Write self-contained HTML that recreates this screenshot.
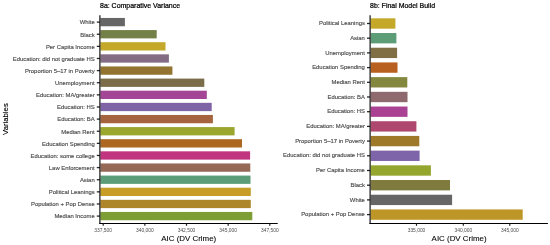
<!DOCTYPE html>
<html><head><meta charset="utf-8"><title>AIC charts</title>
<style>html,body{margin:0;padding:0;background:#fff}svg{display:block}text{font-family:"Liberation Sans",sans-serif}</style></head>
<body>
<svg width="550" height="245" viewBox="0 0 550 245">
<rect width="550" height="245" fill="#fff"/>
<text transform="rotate(0.02 100 8.3)" x="100" y="8.3" font-size="6.98" fill="#000" stroke="#000" stroke-width="0.22">8a: Comparative Variance</text>
<rect x="100.4" y="17.95" width="24.50" height="8.3" fill="#666666"/>
<line x1="96.80" x2="99.90" y1="22.10" y2="22.10" stroke="#262626" stroke-width="1.3"/>
<text transform="rotate(0.02 94.7 24.40)" x="94.7" y="24.40" font-size="5.9" fill="#4D4D4D" stroke="#4D4D4D" stroke-width="0.15" text-anchor="end">White</text>
<rect x="100.4" y="30.07" width="56.30" height="8.3" fill="#738149"/>
<line x1="96.80" x2="99.90" y1="34.23" y2="34.23" stroke="#262626" stroke-width="1.3"/>
<text transform="rotate(0.02 94.7 36.52)" x="94.7" y="36.52" font-size="5.9" fill="#4D4D4D" stroke="#4D4D4D" stroke-width="0.15" text-anchor="end">Black</text>
<rect x="100.4" y="42.20" width="65.10" height="8.3" fill="#C3A82A"/>
<line x1="96.80" x2="99.90" y1="46.35" y2="46.35" stroke="#262626" stroke-width="1.3"/>
<text transform="rotate(0.02 94.7 48.65)" x="94.7" y="48.65" font-size="5.9" fill="#4D4D4D" stroke="#4D4D4D" stroke-width="0.15" text-anchor="end">Per Capita Income</text>
<rect x="100.4" y="54.33" width="68.50" height="8.3" fill="#846C85"/>
<line x1="96.80" x2="99.90" y1="58.48" y2="58.48" stroke="#262626" stroke-width="1.3"/>
<text transform="rotate(0.02 94.7 60.77)" x="94.7" y="60.77" font-size="5.9" fill="#4D4D4D" stroke="#4D4D4D" stroke-width="0.15" text-anchor="end">Education: did not graduate HS</text>
<rect x="100.4" y="66.45" width="72.00" height="8.3" fill="#927330"/>
<line x1="96.80" x2="99.90" y1="70.60" y2="70.60" stroke="#262626" stroke-width="1.3"/>
<text transform="rotate(0.02 94.7 72.90)" x="94.7" y="72.90" font-size="5.9" fill="#4D4D4D" stroke="#4D4D4D" stroke-width="0.15" text-anchor="end">Proportion 5–17 in Poverty</text>
<rect x="100.4" y="78.58" width="103.90" height="8.3" fill="#7C6D4A"/>
<line x1="96.80" x2="99.90" y1="82.73" y2="82.73" stroke="#262626" stroke-width="1.3"/>
<text transform="rotate(0.02 94.7 85.03)" x="94.7" y="85.03" font-size="5.9" fill="#4D4D4D" stroke="#4D4D4D" stroke-width="0.15" text-anchor="end">Unemployment</text>
<rect x="100.4" y="90.70" width="106.40" height="8.3" fill="#A34695"/>
<line x1="96.80" x2="99.90" y1="94.85" y2="94.85" stroke="#262626" stroke-width="1.3"/>
<text transform="rotate(0.02 94.7 97.15)" x="94.7" y="97.15" font-size="5.9" fill="#4D4D4D" stroke="#4D4D4D" stroke-width="0.15" text-anchor="end">Education: MA/greater</text>
<rect x="100.4" y="102.83" width="111.30" height="8.3" fill="#7F63A7"/>
<line x1="96.80" x2="99.90" y1="106.98" y2="106.98" stroke="#262626" stroke-width="1.3"/>
<text transform="rotate(0.02 94.7 109.28)" x="94.7" y="109.28" font-size="5.9" fill="#4D4D4D" stroke="#4D4D4D" stroke-width="0.15" text-anchor="end">Education: HS</text>
<rect x="100.4" y="114.95" width="112.50" height="8.3" fill="#A6643E"/>
<line x1="96.80" x2="99.90" y1="119.10" y2="119.10" stroke="#262626" stroke-width="1.3"/>
<text transform="rotate(0.02 94.7 121.40)" x="94.7" y="121.40" font-size="5.9" fill="#4D4D4D" stroke="#4D4D4D" stroke-width="0.15" text-anchor="end">Education: BA</text>
<rect x="100.4" y="127.08" width="134.20" height="8.3" fill="#9AA62E"/>
<line x1="96.80" x2="99.90" y1="131.22" y2="131.22" stroke="#262626" stroke-width="1.3"/>
<text transform="rotate(0.02 94.7 133.53)" x="94.7" y="133.53" font-size="5.9" fill="#4D4D4D" stroke="#4D4D4D" stroke-width="0.15" text-anchor="end">Median Rent</text>
<rect x="100.4" y="139.20" width="141.60" height="8.3" fill="#AC6721"/>
<line x1="96.80" x2="99.90" y1="143.35" y2="143.35" stroke="#262626" stroke-width="1.3"/>
<text transform="rotate(0.02 94.7 145.65)" x="94.7" y="145.65" font-size="5.9" fill="#4D4D4D" stroke="#4D4D4D" stroke-width="0.15" text-anchor="end">Education Spending</text>
<rect x="100.4" y="151.32" width="149.70" height="8.3" fill="#C03480"/>
<line x1="96.80" x2="99.90" y1="155.47" y2="155.47" stroke="#262626" stroke-width="1.3"/>
<text transform="rotate(0.02 94.7 157.78)" x="94.7" y="157.78" font-size="5.9" fill="#4D4D4D" stroke="#4D4D4D" stroke-width="0.15" text-anchor="end">Education: some college</text>
<rect x="100.4" y="163.45" width="149.90" height="8.3" fill="#966856"/>
<line x1="96.80" x2="99.90" y1="167.60" y2="167.60" stroke="#262626" stroke-width="1.3"/>
<text transform="rotate(0.02 94.7 169.90)" x="94.7" y="169.90" font-size="5.9" fill="#4D4D4D" stroke="#4D4D4D" stroke-width="0.15" text-anchor="end">Law Enforcement</text>
<rect x="100.4" y="175.57" width="150.10" height="8.3" fill="#5C9D78"/>
<line x1="96.80" x2="99.90" y1="179.72" y2="179.72" stroke="#262626" stroke-width="1.3"/>
<text transform="rotate(0.02 94.7 182.03)" x="94.7" y="182.03" font-size="5.9" fill="#4D4D4D" stroke="#4D4D4D" stroke-width="0.15" text-anchor="end">Asian</text>
<rect x="100.4" y="187.70" width="150.40" height="8.3" fill="#C79D28"/>
<line x1="96.80" x2="99.90" y1="191.85" y2="191.85" stroke="#262626" stroke-width="1.3"/>
<text transform="rotate(0.02 94.7 194.15)" x="94.7" y="194.15" font-size="5.9" fill="#4D4D4D" stroke="#4D4D4D" stroke-width="0.15" text-anchor="end">Political Leanings</text>
<rect x="100.4" y="199.82" width="150.40" height="8.3" fill="#AC8628"/>
<line x1="96.80" x2="99.90" y1="203.97" y2="203.97" stroke="#262626" stroke-width="1.3"/>
<text transform="rotate(0.02 94.7 206.28)" x="94.7" y="206.28" font-size="5.9" fill="#4D4D4D" stroke="#4D4D4D" stroke-width="0.15" text-anchor="end">Population + Pop Dense</text>
<rect x="100.4" y="211.95" width="151.90" height="8.3" fill="#7D9D35"/>
<line x1="96.80" x2="99.90" y1="216.10" y2="216.10" stroke="#262626" stroke-width="1.3"/>
<text transform="rotate(0.02 94.7 218.40)" x="94.7" y="218.40" font-size="5.9" fill="#4D4D4D" stroke="#4D4D4D" stroke-width="0.15" text-anchor="end">Median Income</text>
<line x1="99.9" x2="99.9" y1="15.2" y2="224.05" stroke="#000" stroke-width="1.1"/>
<line x1="99.35000000000001" x2="277.7" y1="223.5" y2="223.5" stroke="#000" stroke-width="1.1"/>
<line x1="103.2" x2="103.2" y1="223.5" y2="225.8" stroke="#222" stroke-width="1.2"/>
<text transform="rotate(0.02 103.20 232.35)" x="103.20" y="232.35" font-size="4.9" fill="#4D4D4D" text-anchor="middle">337,500</text>
<line x1="144.85" x2="144.85" y1="223.5" y2="225.8" stroke="#222" stroke-width="1.2"/>
<text transform="rotate(0.02 144.85 232.35)" x="144.85" y="232.35" font-size="4.9" fill="#4D4D4D" text-anchor="middle">340,000</text>
<line x1="186.5" x2="186.5" y1="223.5" y2="225.8" stroke="#222" stroke-width="1.2"/>
<text transform="rotate(0.02 186.50 232.35)" x="186.50" y="232.35" font-size="4.9" fill="#4D4D4D" text-anchor="middle">342,500</text>
<line x1="228.14999999999998" x2="228.14999999999998" y1="223.5" y2="225.8" stroke="#222" stroke-width="1.2"/>
<text transform="rotate(0.02 228.15 232.35)" x="228.15" y="232.35" font-size="4.9" fill="#4D4D4D" text-anchor="middle">345,000</text>
<line x1="269.8" x2="269.8" y1="223.5" y2="225.8" stroke="#222" stroke-width="1.2"/>
<text transform="rotate(0.02 269.80 232.35)" x="269.80" y="232.35" font-size="4.9" fill="#4D4D4D" text-anchor="middle">347,500</text>
<text transform="rotate(0.02 188.75 241.4)" x="188.75" y="241.4" font-size="8.05" textLength="55" lengthAdjust="spacingAndGlyphs" fill="#000" stroke="#000" stroke-width="0.08" text-anchor="middle">AIC (DV Crime)</text>
<text transform="rotate(0.02 370 8.3)" x="370" y="8.3" font-size="6.98" fill="#000" stroke="#000" stroke-width="0.22">8b: Final Model Build</text>
<rect x="370.7" y="18.32" width="24.70" height="10.35" fill="#C6A829"/>
<line x1="367.00" x2="370.10" y1="23.50" y2="23.50" stroke="#262626" stroke-width="1.3"/>
<text transform="rotate(0.02 364.9 25.20)" x="364.9" y="25.20" font-size="5.9" fill="#4D4D4D" stroke="#4D4D4D" stroke-width="0.15" text-anchor="end">Political Leanings</text>
<rect x="370.7" y="33.02" width="25.70" height="10.35" fill="#5C9D78"/>
<line x1="367.00" x2="370.10" y1="38.19" y2="38.19" stroke="#262626" stroke-width="1.3"/>
<text transform="rotate(0.02 364.9 39.89)" x="364.9" y="39.89" font-size="5.9" fill="#4D4D4D" stroke="#4D4D4D" stroke-width="0.15" text-anchor="end">Asian</text>
<rect x="370.7" y="47.72" width="26.40" height="10.35" fill="#806E44"/>
<line x1="367.00" x2="370.10" y1="52.89" y2="52.89" stroke="#262626" stroke-width="1.3"/>
<text transform="rotate(0.02 364.9 54.59)" x="364.9" y="54.59" font-size="5.9" fill="#4D4D4D" stroke="#4D4D4D" stroke-width="0.15" text-anchor="end">Unemployment</text>
<rect x="370.7" y="62.42" width="26.80" height="10.35" fill="#B8601F"/>
<line x1="367.00" x2="370.10" y1="67.59" y2="67.59" stroke="#262626" stroke-width="1.3"/>
<text transform="rotate(0.02 364.9 69.30)" x="364.9" y="69.30" font-size="5.9" fill="#4D4D4D" stroke="#4D4D4D" stroke-width="0.15" text-anchor="end">Education Spending</text>
<rect x="370.7" y="77.12" width="36.60" height="10.35" fill="#84883F"/>
<line x1="367.00" x2="370.10" y1="82.30" y2="82.30" stroke="#262626" stroke-width="1.3"/>
<text transform="rotate(0.02 364.9 84.00)" x="364.9" y="84.00" font-size="5.9" fill="#4D4D4D" stroke="#4D4D4D" stroke-width="0.15" text-anchor="end">Median Rent</text>
<rect x="370.7" y="91.82" width="36.80" height="10.35" fill="#8E696E"/>
<line x1="367.00" x2="370.10" y1="96.99" y2="96.99" stroke="#262626" stroke-width="1.3"/>
<text transform="rotate(0.02 364.9 98.69)" x="364.9" y="98.69" font-size="5.9" fill="#4D4D4D" stroke="#4D4D4D" stroke-width="0.15" text-anchor="end">Education: BA</text>
<rect x="370.7" y="106.52" width="36.80" height="10.35" fill="#AA4193"/>
<line x1="367.00" x2="370.10" y1="111.69" y2="111.69" stroke="#262626" stroke-width="1.3"/>
<text transform="rotate(0.02 364.9 113.39)" x="364.9" y="113.39" font-size="5.9" fill="#4D4D4D" stroke="#4D4D4D" stroke-width="0.15" text-anchor="end">Education: HS</text>
<rect x="370.7" y="121.22" width="45.70" height="10.35" fill="#AF486F"/>
<line x1="367.00" x2="370.10" y1="126.39" y2="126.39" stroke="#262626" stroke-width="1.3"/>
<text transform="rotate(0.02 364.9 128.09)" x="364.9" y="128.09" font-size="5.9" fill="#4D4D4D" stroke="#4D4D4D" stroke-width="0.15" text-anchor="end">Education: MA/greater</text>
<rect x="370.7" y="135.92" width="48.60" height="10.35" fill="#9E792A"/>
<line x1="367.00" x2="370.10" y1="141.09" y2="141.09" stroke="#262626" stroke-width="1.3"/>
<text transform="rotate(0.02 364.9 142.79)" x="364.9" y="142.79" font-size="5.9" fill="#4D4D4D" stroke="#4D4D4D" stroke-width="0.15" text-anchor="end">Proportion 5–17 in Poverty</text>
<rect x="370.7" y="150.62" width="48.90" height="10.35" fill="#7E65A9"/>
<line x1="367.00" x2="370.10" y1="155.79" y2="155.79" stroke="#262626" stroke-width="1.3"/>
<text transform="rotate(0.02 364.9 157.49)" x="364.9" y="157.49" font-size="5.9" fill="#4D4D4D" stroke="#4D4D4D" stroke-width="0.15" text-anchor="end">Education: did not graduate HS</text>
<rect x="370.7" y="165.32" width="60.20" height="10.35" fill="#94A62E"/>
<line x1="367.00" x2="370.10" y1="170.50" y2="170.50" stroke="#262626" stroke-width="1.3"/>
<text transform="rotate(0.02 364.9 172.19)" x="364.9" y="172.19" font-size="5.9" fill="#4D4D4D" stroke="#4D4D4D" stroke-width="0.15" text-anchor="end">Per Capita Income</text>
<rect x="370.7" y="180.02" width="79.30" height="10.35" fill="#7F7B3F"/>
<line x1="367.00" x2="370.10" y1="185.19" y2="185.19" stroke="#262626" stroke-width="1.3"/>
<text transform="rotate(0.02 364.9 186.89)" x="364.9" y="186.89" font-size="5.9" fill="#4D4D4D" stroke="#4D4D4D" stroke-width="0.15" text-anchor="end">Black</text>
<rect x="370.7" y="194.72" width="81.40" height="10.35" fill="#666666"/>
<line x1="367.00" x2="370.10" y1="199.89" y2="199.89" stroke="#262626" stroke-width="1.3"/>
<text transform="rotate(0.02 364.9 201.59)" x="364.9" y="201.59" font-size="5.9" fill="#4D4D4D" stroke="#4D4D4D" stroke-width="0.15" text-anchor="end">White</text>
<rect x="370.7" y="209.42" width="152.00" height="10.35" fill="#BE9627"/>
<line x1="367.00" x2="370.10" y1="214.59" y2="214.59" stroke="#262626" stroke-width="1.3"/>
<text transform="rotate(0.02 364.9 216.29)" x="364.9" y="216.29" font-size="5.9" fill="#4D4D4D" stroke="#4D4D4D" stroke-width="0.15" text-anchor="end">Population + Pop Dense</text>
<line x1="370.1" x2="370.1" y1="15.2" y2="224.05" stroke="#000" stroke-width="1.1"/>
<line x1="369.55" x2="547.9" y1="223.5" y2="223.5" stroke="#000" stroke-width="1.1"/>
<line x1="416.5" x2="416.5" y1="223.5" y2="225.8" stroke="#222" stroke-width="1.2"/>
<text transform="rotate(0.02 416.50 232.35)" x="416.50" y="232.35" font-size="4.9" fill="#4D4D4D" text-anchor="middle">335,000</text>
<line x1="463.3" x2="463.3" y1="223.5" y2="225.8" stroke="#222" stroke-width="1.2"/>
<text transform="rotate(0.02 463.30 232.35)" x="463.30" y="232.35" font-size="4.9" fill="#4D4D4D" text-anchor="middle">340,000</text>
<line x1="509.8" x2="509.8" y1="223.5" y2="225.8" stroke="#222" stroke-width="1.2"/>
<text transform="rotate(0.02 509.80 232.35)" x="509.80" y="232.35" font-size="4.9" fill="#4D4D4D" text-anchor="middle">345,000</text>
<text transform="rotate(0.02 459.1 241.4)" x="459.1" y="241.4" font-size="8.05" textLength="55" lengthAdjust="spacingAndGlyphs" fill="#000" stroke="#000" stroke-width="0.08" text-anchor="middle">AIC (DV Crime)</text>
<text transform="translate(8.0,119.1) rotate(-89.98)" font-size="7.75" fill="#000" stroke="#000" stroke-width="0.15" text-anchor="middle">Variables</text>
</svg>
</body></html>
